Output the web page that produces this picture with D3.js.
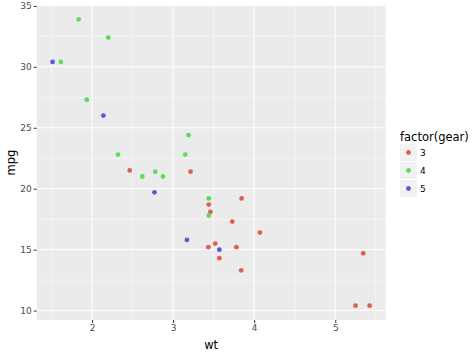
<!DOCTYPE html>
<html>
<head>
<meta charset="utf-8">
<script src="https://cdnjs.cloudflare.com/ajax/libs/d3/7.8.5/d3.min.js"></script>
<style>
body { margin: 0; background: #fff; }
text { font-family: "DejaVu Sans", sans-serif; }
</style>
</head>
<body>
<script>
// mtcars: weight vs mpg, coloured by gear
var wt = [2.620, 2.875, 2.320, 3.215, 3.440, 3.460, 3.570, 3.190, 3.150, 3.440, 3.440,
  4.070, 3.730, 3.780, 5.250, 5.424, 5.345, 2.200, 1.615, 1.835, 2.465, 3.520,
  3.435, 3.840, 3.845, 1.935, 2.140, 1.513, 3.170, 2.770, 3.570, 2.780];
var mpg = [21.0, 21.0, 22.8, 21.4, 18.7, 18.1, 14.3, 24.4, 22.8, 19.2, 17.8,
  16.4, 17.3, 15.2, 10.4, 10.4, 14.7, 32.4, 30.4, 33.9, 21.5, 15.5,
  15.2, 13.3, 19.2, 27.3, 26.0, 30.4, 15.8, 19.7, 15.0, 21.4];
var gear = [4, 4, 4, 3, 3, 3, 3, 4, 4, 4, 4,
  3, 3, 3, 3, 3, 3, 4, 4, 4, 3, 3,
  3, 3, 3, 4, 5, 5, 5, 5, 5, 4];
var gearLevels = ["3", "4", "5"];
var xTicks = [2, 3, 4, 5];
var yTicks = [10, 15, 20, 25, 30, 35];

var W = 474, H = 355;
var svg = d3.select("body").append("svg")
  .attr("width", W)
  .attr("height", H);

var pLeft = 36.7, pRight = 385.5, pTop = 5, pBottom = 320;

var xExt = d3.extent(wt), xPad = (xExt[1] - xExt[0]) * 0.05;
var yExt = d3.extent(mpg), yPad = (yExt[1] - yExt[0]) * 0.05;

var x = d3.scaleLinear().domain([xExt[0] - xPad, xExt[1] + xPad]).range([pLeft, pRight]);
var y = d3.scaleLinear().domain([yExt[0] - yPad, yExt[1] + yPad]).range([pBottom, pTop]);

var color = d3.scaleOrdinal().domain(gearLevels).range(["#db5f57", "#5fdb57", "#5f57db"]);

// panel
svg.append("rect")
  .attr("x", pLeft).attr("y", pTop)
  .attr("width", pRight - pLeft).attr("height", pBottom - pTop)
  .attr("fill", "#ebebeb");

// minor grid
var xMinor = [1.5, 2.5, 3.5, 4.5, 5.5];
var yMinor = [12.5, 17.5, 22.5, 27.5, 32.5];
svg.selectAll(".xminor").data(xMinor).enter().append("line")
  .attr("x1", x).attr("x2", x).attr("y1", pTop).attr("y2", pBottom)
  .attr("stroke", "#fff").attr("stroke-width", 0.5);
svg.selectAll(".yminor").data(yMinor).enter().append("line")
  .attr("y1", y).attr("y2", y).attr("x1", pLeft).attr("x2", pRight)
  .attr("stroke", "#fff").attr("stroke-width", 0.5);

// major grid
svg.selectAll(".xmajor").data(xTicks).enter().append("line")
  .attr("x1", x).attr("x2", x).attr("y1", pTop).attr("y2", pBottom)
  .attr("stroke", "#fff").attr("stroke-width", 1);
svg.selectAll(".ymajor").data(yTicks).enter().append("line")
  .attr("y1", y).attr("y2", y).attr("x1", pLeft).attr("x2", pRight)
  .attr("stroke", "#fff").attr("stroke-width", 1);

// axes
var xAxis = svg.append("g")
  .attr("transform", "translate(0," + pBottom + ")")
  .call(d3.axisBottom(x).tickValues(xTicks).tickSize(3).tickPadding(2).tickFormat(d3.format("d")));
var yAxis = svg.append("g")
  .attr("transform", "translate(" + pLeft + ",0)")
  .call(d3.axisLeft(y).tickValues(yTicks).tickSize(3).tickPadding(2).tickFormat(d3.format("d")));
[xAxis, yAxis].forEach(function(a){
  a.select(".domain").remove();
  a.selectAll(".tick line").attr("stroke", "#333");
  a.selectAll(".tick text").attr("fill", "#4d4d4d")
    .style("font-size", "9px").style("font-family", "DejaVu Sans");
});

// axis titles
svg.append("text")
  .attr("x", (pLeft + pRight) / 2).attr("y", 349)
  .attr("text-anchor", "middle")
  .style("font-size", "11.5px")
  .text("wt");
svg.append("text")
  .attr("transform", "translate(14.5," + (pTop + pBottom) / 2 + ") rotate(-90)")
  .attr("text-anchor", "middle")
  .style("font-size", "11.5px")
  .text("mpg");

// points
svg.selectAll(".pt").data(wt).enter().append("circle")
  .attr("cx", function(d){ return x(d); })
  .attr("cy", function(d, i){ return y(mpg[i]); })
  .attr("r", 2.4)
  .attr("fill", function(d, i){ return color(String(gear[i])); });

// legend
var lg = svg.append("g");
lg.append("text")
  .attr("x", 400).attr("y", 141)
  .style("font-size", "11.5px")
  .text("factor(gear)");
var keys = lg.selectAll(".key").data(gearLevels).enter().append("g")
  .attr("transform", function(d, i){ return "translate(400," + (144 + i * 18) + ")"; });
keys.append("rect")
  .attr("width", 17).attr("height", 17)
  .attr("fill", "#f2f2f2");
keys.append("circle")
  .attr("cx", 8.5).attr("cy", 8.5).attr("r", 2.4)
  .attr("fill", function(d){ return color(d); });
keys.append("text")
  .attr("x", 20).attr("y", 12)
  .style("font-size", "9px")
  .text(function(d){ return d; });
</script>
</body>
</html>
